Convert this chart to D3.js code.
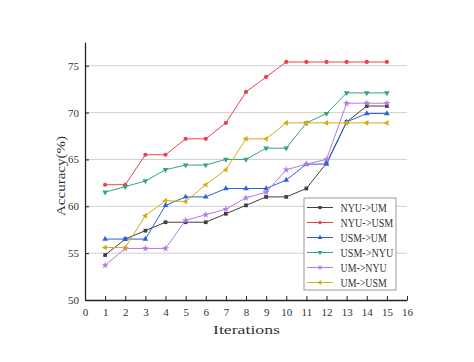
<!DOCTYPE html>
<html>
<head>
<meta charset="utf-8">
<script src="https://cdn.jsdelivr.net/npm/d3@7"></script>
<style>
  body { margin: 0; background: #fff; }
  text { font-family: "Liberation Serif", "DejaVu Serif", serif; fill: #333; }
</style>
</head>
<body>
<div id="chart"></div>
<script>
// iterations on the x axis
var iterations = [1, 2, 3, 4, 5, 6, 7, 8, 9, 10, 11, 12, 13, 14, 15];
var seriesNames = ["NYU->UM", "NYU->USM", "USM->UM", "USM->NYU", "UM->NYU", "UM->USM"];

// accuracy (%) per series
var nyuUm   = [54.8, 56.5, 57.4, 58.3, 58.3, 58.3, 59.2, 60.1, 61.0, 61.0, 61.9, 64.6, 69.0, 70.7, 70.7];
var nyuUsm  = [62.3, 62.3, 65.5, 65.5, 67.2, 67.2, 68.9, 72.2, 73.8, 75.4, 75.4, 75.4, 75.4, 75.4, 75.4];
var usmUm   = [56.5, 56.5, 56.5, 60.1, 61.0, 61.0, 61.9, 61.9, 61.9, 62.8, 64.5, 64.5, 69.0, 69.9, 69.9];
var usmNyu  = [61.5, 62.1, 62.7, 63.9, 64.4, 64.4, 65.0, 65.0, 66.2, 66.2, 68.9, 69.9, 72.1, 72.1, 72.1];
var umNyu   = [53.7, 55.5, 55.5, 55.5, 58.5, 59.1, 59.7, 60.9, 61.5, 63.9, 64.5, 65.0, 71.0, 71.0, 71.0];
var umUsm   = [55.6, 55.6, 59.0, 60.6, 60.5, 62.3, 63.9, 67.2, 67.2, 68.9, 68.9, 68.9, 68.9, 68.9, 68.9];

var xTicks = d3.range(0, 17);
var yTicks = [50, 55, 60, 65, 70, 75];
var yGrid = [55, 60, 65, 70, 75];

var allValues = [nyuUm, nyuUsm, usmUm, usmNyu, umNyu, umUsm];
var colors = ["#404040", "#e8434c", "#2a63d6", "#35a577", "#b47ae8", "#d6ab14"];
// marker shape + rotation per series
var shapes = [
  {type: d3.symbolSquare, rot: 0},
  {type: d3.symbolCircle, rot: 0},
  {type: d3.symbolTriangle, rot: 0},
  {type: d3.symbolTriangle, rot: 180},
  {type: d3.symbolStar, rot: 0},
  {type: d3.symbolTriangle, rot: -90}
];

var series = seriesNames.map(function(name, i) {
  return {name: name, values: allValues[i], color: colors[i], shape: shapes[i]};
});

var width = 474, height = 362;
var svg = d3.select("#chart").append("svg")
  .attr("width", width)
  .attr("height", height);

svg.append("rect").attr("width", width).attr("height", height).attr("fill", "#fff");

var x = d3.scaleLinear().domain([0, 16]).range([85, 407]);
var y = d3.scaleLinear().domain([50, 77.5]).range([300, 42.3]);

// horizontal grid
svg.append("g").selectAll("line")
  .data(yGrid)
  .join("line")
  .attr("x1", x(0)).attr("x2", x(16))
  .attr("y1", d => y(d)).attr("y2", d => y(d))
  .attr("stroke", "#d0d0d0")
  .attr("stroke-width", 1);

// x axis, ticks pointing inward
var xAxis = svg.append("g")
  .attr("transform", `translate(0,${y(50)})`)
  .call(d3.axisBottom(x).tickValues(xTicks).tickSize(-4).tickSizeOuter(0).tickPadding(8));
xAxis.select(".domain").attr("stroke", "#222").attr("stroke-width", 1.3);
xAxis.selectAll(".tick line").attr("stroke", "#222");
xAxis.selectAll("text").attr("font-size", 11).attr("font-family", "Liberation Serif").attr("fill", "#333");

// y axis
var yAxis = svg.append("g")
  .attr("transform", `translate(${x(0)},0)`)
  .call(d3.axisLeft(y).tickValues(yTicks).tickSize(-4).tickSizeOuter(0).tickPadding(6));
yAxis.select(".domain").attr("stroke", "#222").attr("stroke-width", 1.3);
yAxis.selectAll(".tick line").attr("stroke", "#222");
yAxis.selectAll("text").attr("font-size", 11).attr("font-family", "Liberation Serif").attr("fill", "#333");

// lines
var line = d3.line()
  .x((d, i) => x(iterations[i]))
  .y(d => y(d));

var sg = svg.append("g").selectAll("g")
  .data(series)
  .join("g");

sg.append("path")
  .attr("d", d => line(d.values))
  .attr("fill", "none")
  .attr("stroke", d => d.color)
  .attr("stroke-width", 1);

sg.each(function(s) {
  d3.select(this).selectAll("path.m")
    .data(s.values)
    .join("path")
    .attr("class", "m")
    .attr("d", d3.symbol().type(s.shape.type).size(s.shape.type === d3.symbolStar ? 16 : 14))
    .attr("transform", (d, i) => `translate(${x(iterations[i])},${y(d)}) rotate(${s.shape.rot})`)
    .attr("fill", s.color);
});

// axis titles
svg.append("text")
  .attr("x", 246.5).attr("y", 334)
  .attr("text-anchor", "middle")
  .attr("font-size", 13)
  .attr("textLength", 67).attr("lengthAdjust", "spacingAndGlyphs")
  .text("Iterations");

svg.append("text")
  .attr("transform", "translate(65,176) rotate(-90)")
  .attr("text-anchor", "middle")
  .attr("font-size", 13)
  .attr("textLength", 80).attr("lengthAdjust", "spacingAndGlyphs")
  .text("Accuracy(%)");

// legend
var legend = svg.append("g").attr("transform", "translate(304,198)");
legend.append("rect")
  .attr("width", 92).attr("height", 92)
  .attr("fill", "#fff")
  .attr("stroke", "#999")
  .attr("stroke-width", 1);

var li = legend.selectAll("g.item")
  .data(series)
  .join("g")
  .attr("class", "item")
  .attr("transform", (d, i) => `translate(0,${9.5 + i * 15})`);

li.append("line")
  .attr("x1", 3).attr("x2", 29)
  .attr("stroke", d => d.color)
  .attr("stroke-width", 1);

li.append("path")
  .attr("d", d => d3.symbol().type(d.shape.type).size(10)())
  .attr("transform", d => `translate(16,0) rotate(${d.shape.rot})`)
  .attr("fill", d => d.color);

li.append("text")
  .attr("x", 36.5).attr("y", 4.5)
  .attr("font-size", 13)
  .attr("textLength", d => d.name.length * 6.6)
  .attr("lengthAdjust", "spacingAndGlyphs")
  .text(d => d.name);
</script>
</body>
</html>
